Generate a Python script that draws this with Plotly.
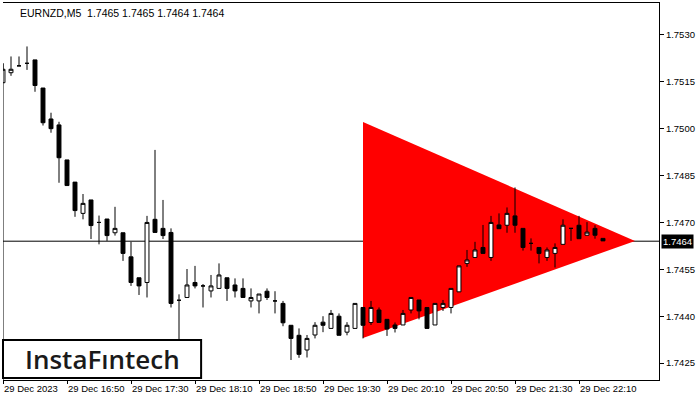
import plotly.graph_objects as go

# ---- data (EURNZD M5, bars indexed from 29 Dec 16:10) ----
bar_index = list(range(76))
open_ = [1.75147, 1.75179, 1.75201, 1.75209, 1.75220, 1.75130, 1.75031, 1.75012, 1.74900, 1.74829,
         1.74729, 1.74772, 1.74700, 1.74711, 1.74667, 1.74667, 1.74590, 1.74523, 1.74508, 1.74710,
         1.74681, 1.74668, 1.74451, 1.74460, 1.74508, 1.74497, 1.74481, 1.74489, 1.74523, 1.74500,
         1.74489, 1.74449, 1.74449, 1.74480, 1.74449, 1.74441, 1.74371, 1.74339, 1.74292, 1.74340,
         1.74381, 1.74361, 1.74400, 1.74349, 1.74361, 1.74428, 1.74380, 1.74420, 1.74390, 1.74372,
         1.74372, 1.74420, 1.74452, 1.74428, 1.74372, 1.74428, 1.74428, 1.74478, 1.74569, 1.74588,
         1.74620, 1.74588, 1.74692, 1.74691, 1.74721, 1.74681, 1.74633, 1.74620, 1.74588, 1.74601,
         1.74630, 1.74681, 1.74691, 1.74659, 1.74681, 1.74649]
high_ = [1.75209, 1.75231, 1.75231, 1.75263, 1.75220, 1.75130, 1.75051, 1.75022, 1.74900, 1.74829,
         1.74791, 1.74772, 1.74722, 1.74711, 1.74750, 1.74667, 1.74638, 1.74523, 1.74721, 1.74932,
         1.74772, 1.74681, 1.74470, 1.74551, 1.74561, 1.74503, 1.74532, 1.74569, 1.74523, 1.74521,
         1.74521, 1.74489, 1.74471, 1.74489, 1.74480, 1.74449, 1.74371, 1.74361, 1.74340, 1.74381,
         1.74400, 1.74420, 1.74409, 1.74381, 1.74441, 1.74428, 1.74449, 1.74428, 1.74390, 1.74380,
         1.74420, 1.74460, 1.74452, 1.74428, 1.74441, 1.74452, 1.74489, 1.74561, 1.74612, 1.74638,
         1.74692, 1.74721, 1.74729, 1.74748, 1.74812, 1.74681, 1.74649, 1.74620, 1.74620, 1.74633,
         1.74710, 1.74681, 1.74721, 1.74701, 1.74691, 1.74649]
low_ = [1.75147, 1.75169, 1.75201, 1.75188, 1.75118, 1.75010, 1.74987, 1.74827, 1.74818, 1.74718,
        1.74710, 1.74647, 1.74630, 1.74641, 1.74658, 1.74577, 1.74497, 1.74468, 1.74460, 1.74668,
        1.74647, 1.74428, 1.74298, 1.74460, 1.74489, 1.74428, 1.74460, 1.74489, 1.74449, 1.74460,
        1.74460, 1.74428, 1.74409, 1.74452, 1.74409, 1.74368, 1.74260, 1.74267, 1.74268, 1.74329,
        1.74349, 1.74361, 1.74339, 1.74339, 1.74361, 1.74329, 1.74372, 1.74380, 1.74337, 1.74348,
        1.74372, 1.74409, 1.74390, 1.74361, 1.74372, 1.74417, 1.74409, 1.74478, 1.74558, 1.74588,
        1.74601, 1.74577, 1.74680, 1.74667, 1.74667, 1.74610, 1.74610, 1.74569, 1.74577, 1.74556,
        1.74630, 1.74641, 1.74648, 1.74659, 1.74648, 1.74641]
close_ = [1.75190, 1.75190, 1.75201, 1.75209, 1.75138, 1.75019, 1.75000, 1.74907, 1.74818, 1.74738,
          1.74761, 1.74690, 1.74700, 1.74658, 1.74681, 1.74601, 1.74508, 1.74497, 1.74700, 1.74668,
          1.74658, 1.74441, 1.74451, 1.74500, 1.74497, 1.74497, 1.74497, 1.74532, 1.74489, 1.74481,
          1.74460, 1.74460, 1.74471, 1.74460, 1.74449, 1.74379, 1.74329, 1.74278, 1.74329, 1.74371,
          1.74371, 1.74409, 1.74339, 1.74371, 1.74441, 1.74371, 1.74428, 1.74380, 1.74359, 1.74361,
          1.74409, 1.74460, 1.74417, 1.74361, 1.74441, 1.74441, 1.74489, 1.74561, 1.74580, 1.74612,
          1.74601, 1.74700, 1.74680, 1.74729, 1.74691, 1.74620, 1.74633, 1.74601, 1.74612, 1.74620,
          1.74691, 1.74681, 1.74648, 1.74669, 1.74659, 1.74641]

# triangle pattern (bar index, price)
tri_x = [45, 79, 45]
tri_y = [1.75021, 1.74641, 1.74330]

current_price = 1.7464
price_ticks = [1.7425, 1.7440, 1.7455, 1.7470, 1.7485, 1.7500, 1.7515, 1.7530]
time_tick_index = [0, 8, 16, 24, 32, 40, 48, 56, 64, 72]
time_tick_labels = ["29 Dec 2023", "29 Dec 16:50", "29 Dec 17:30", "29 Dec 18:10", "29 Dec 18:50",
                    "29 Dec 19:30", "29 Dec 20:10", "29 Dec 20:50", "29 Dec 21:30", "29 Dec 22:10"]
title_text = "EURNZD,M5  1.7465 1.7465 1.7464 1.7464"
logo_text = "InstaF\u0131ntech"

Y_MIN, Y_MAX = 1.74196, 1.75402
X_MIN, X_MAX = 0, 82

FONT = "Liberation Sans, Arial, sans-serif"

fig = go.Figure()

# left edge vertical line
fig.add_trace(go.Scatter(x=[bar_index[0], bar_index[0]], y=[high_[0], Y_MIN], mode="lines",
                         line=dict(color="black", width=1), hoverinfo="skip", showlegend=False))

fig.add_trace(go.Candlestick(
    x=bar_index, open=open_, high=high_, low=low_, close=close_,
    increasing=dict(fillcolor="white", line=dict(color="black", width=1)),
    decreasing=dict(fillcolor="black", line=dict(color="black", width=1)),
    whiskerwidth=0, showlegend=False, hoverinfo="skip"))

tri_path = "M " + " L ".join(f"{x},{y}" for x, y in zip(tri_x, tri_y)) + " Z"

shapes = [
    dict(type="path", path=tri_path, xref="x", yref="y", fillcolor="#ff0000",
         line=dict(width=0), layer="below"),
    dict(type="line", xref="paper", yref="y", x0=0, x1=1, y0=current_price, y1=current_price,
         line=dict(color="black", width=1), layer="below"),
    dict(type="rect", xref="paper", yref="paper", x0=0, x1=0.302, y0=0.0053, y1=0.106,
         line=dict(color="black", width=2), fillcolor="white", layer="above"),
]

annotations = [
    dict(text=title_text, xref="paper", yref="paper", x=0.023, y=1, xanchor="left", yanchor="top",
         yshift=-2, showarrow=False, font=dict(family=FONT, size=10.5, color="black")),
    dict(text=f"{current_price:.4f}", xref="paper", yref="y", x=1, y=current_price, xanchor="left",
         yanchor="middle", xshift=2, showarrow=False, bgcolor="black", borderpad=1,
         font=dict(family=FONT, size=9.5, color="white")),
    dict(text=logo_text, xref="paper", yref="paper", x=0.151, y=0.0557, xanchor="center",
         yanchor="middle", showarrow=False,
         font=dict(family="Open Sans, sans-serif", size=26, color="#1a1a1a", weight=600)),
]
for idx, lab in zip(time_tick_index, time_tick_labels):
    annotations.append(dict(text=lab, x=idx, xref="x", y=0, yref="paper", xanchor="left",
                            yanchor="top", xshift=-1, yshift=-1, showarrow=False,
                            font=dict(family=FONT, size=9.5, color="black")))

fig.update_layout(
    width=700, height=400,
    margin=dict(l=3, r=41, t=3, b=20),
    paper_bgcolor="white", plot_bgcolor="white",
    showlegend=False,
    xaxis=dict(range=[X_MIN, X_MAX], rangeslider=dict(visible=False), showgrid=False,
               zeroline=False, showline=True, linecolor="black", linewidth=1, mirror=True,
               tickvals=time_tick_index, ticks="outside", ticklen=3, tickcolor="black",
               showticklabels=False),
    yaxis=dict(range=[Y_MIN, Y_MAX], side="right", showgrid=False, zeroline=False,
               showline=True, linecolor="black", linewidth=1,
               tickvals=price_ticks, ticktext=[f"{v:.4f}" for v in price_ticks],
               ticks="outside", ticklen=4, tickcolor="black",
               tickfont=dict(family=FONT, size=9.5, color="black")),
    annotations=annotations,
    shapes=shapes,
)

fig.write_html("out.html", config={"displayModeBar": False},
               post_script="document.body.style.margin='0';document.body.style.overflow='hidden';")
